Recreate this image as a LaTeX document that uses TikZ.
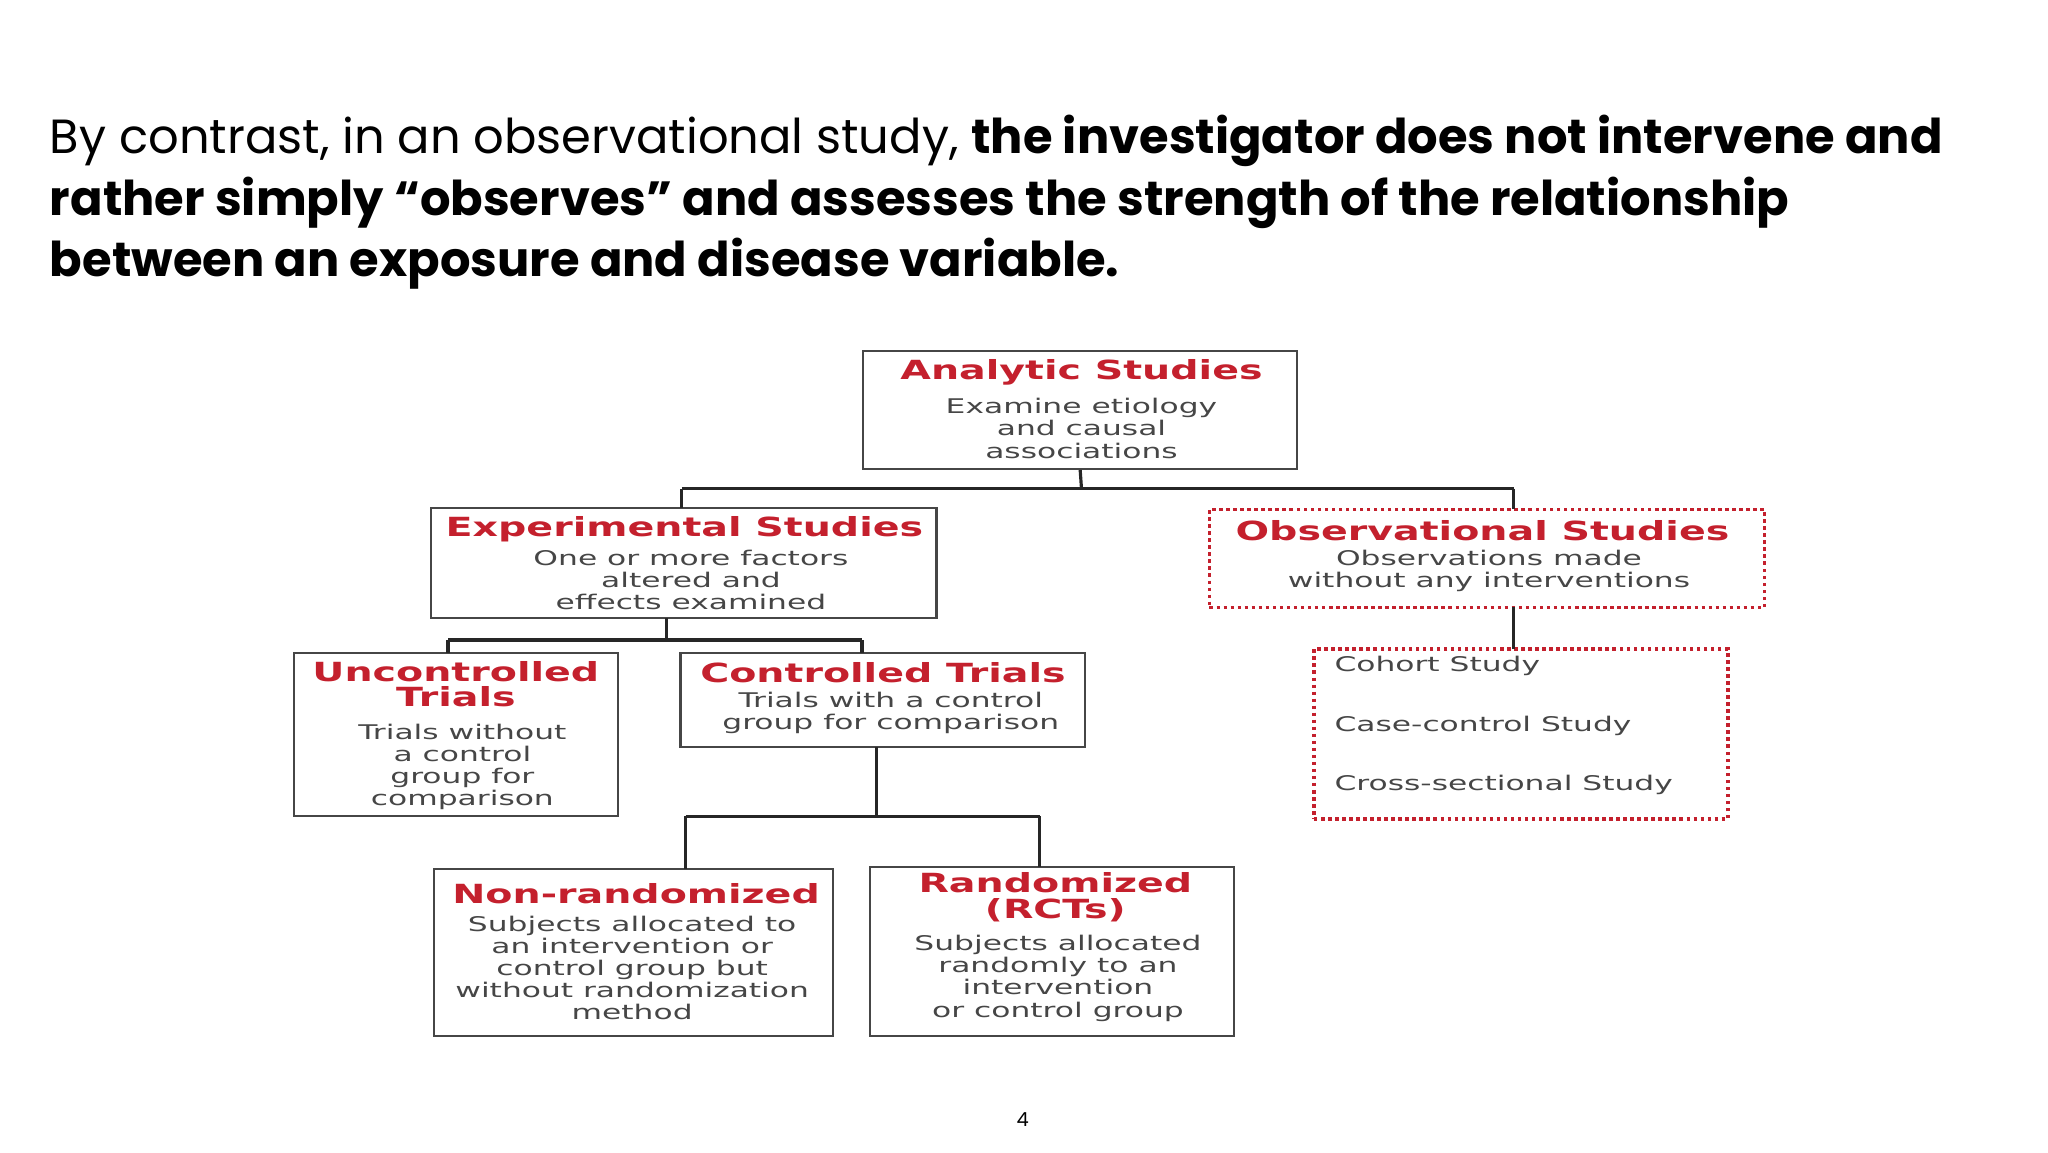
\documentclass[tikz,border=0pt]{standalone}
\usepackage{fontspec}
\setmainfont{Poppins}
\newfontfamily\boxfont[FakeStretch=1.5]{DejaVu Sans}
\newfontfamily\bodyfont[FakeStretch=1.55]{DejaVu Sans}
\definecolor{boxred}{RGB}{196,32,45}
\definecolor{boxgray}{RGB}{70,70,70}
\newcommand\px{0.02612cm}
\begin{document}
\begin{tikzpicture}[x=0.02612cm,y=-0.02612cm,
  bx/.style={draw=boxgray,line width=1.2pt,inner sep=0pt},
  obx/.style={draw=boxred,line width=2pt,dotted,inner sep=0pt},
  ttl/.style={font=\boxfont\bfseries\fontsize{15}{17}\selectfont,text=boxred,align=center},
  bdy/.style={font=\bodyfont\fontsize{11.5}{12.6}\selectfont,text=boxgray,align=center},
  con/.style={line width=1.8pt,black!85}]
\useasboundingbox (0,0) rectangle (1568,882);
\node[anchor=north west,align=left,inner sep=0pt,font=\fontsize{27.3}{35}\selectfont] (head) at (38,88)
 {By contrast, in an observational study, \textbf{the investigator does not intervene and}\\
 \textbf{rather simply ``observes'' and assesses the strength of the relationship}\\
 \textbf{between an exposure and disease variable.}};
% boxes
\node[bx,minimum width=332*\px,minimum height=90*\px] (an) at (827,314) {};
\node[bx,minimum width=387*\px,minimum height=84*\px] (ex) at (523.5,431) {};
\node[obx,minimum width=425*\px,minimum height=75*\px] (ob) at (1138.5,427.5) {};
\node[bx,minimum width=248*\px,minimum height=125*\px] (un) at (349,562.5) {};
\node[bx,minimum width=310*\px,minimum height=72*\px] (ct) at (676,536) {};
\node[obx,minimum width=317*\px,minimum height=130*\px] (co) at (1164.5,562) {};
\node[bx,minimum width=306*\px,minimum height=128*\px] (nr) at (485,729) {};
\node[bx,minimum width=279*\px,minimum height=129*\px] (rc) at (805.5,728.5) {};
% texts
\node[ttl] (t1) at (828,285) {Analytic Studies};
\node[bdy] (b1) at (828,328) {Examine etiology\\and causal\\associations};
\node[ttl] (t2) at (524,405) {Experimental Studies};
\node[bdy] (b2) at (529,444) {One or more factors\\altered and\\effects examined};
\node[ttl] (t3) at (1135,406) {Observational Studies};
\node[bdy] (b3) at (1140,437) {Observations made\\without any interventions};
\node[ttl,font=\boxfont\bfseries\fontsize{15}{14.5}\selectfont] (t4) at (349,524) {Uncontrolled\\Trials};
\node[bdy] (b4) at (354,587) {Trials without\\a control\\group for\\comparison};
\node[ttl] (t5) at (676,515) {Controlled Trials};
\node[bdy] (b5) at (682,546) {Trials with a control\\group for comparison};
\node[bdy,anchor=west] (c1) at (1017,510) {Cohort Study};
\node[bdy,anchor=west] (c2) at (1017,556) {Case-control Study};
\node[bdy,anchor=west] (c3) at (1017,601) {Cross-sectional Study};
\node[ttl] (t6) at (487,684) {Non-randomized};
\node[bdy] (b6) at (484,741) {Subjects allocated to\\an intervention or\\control group but\\without randomization\\method};
\node[ttl,font=\boxfont\bfseries\fontsize{15}{14.5}\selectfont] (t7) at (808,687) {Randomized\\(RCTs)};
\node[bdy] (b7) at (810,749) {Subjects allocated\\randomly to an\\intervention\\or control group};
\node[font=\fontsize{11}{13}\selectfont] (pg) at (783,857) {4};
% connectors
\coordinate (j1) at (828,374);
\draw[con] (an.south) -- (j1);
\draw[con] (522,374) -- (1159,374);
\draw[con] (522,374) -- (522,389);
\draw[con] (1159,374) -- (1159,390);
\draw[con] (510,473) -- (510,490);
\draw[con] (343,490) -- (660,490);
\draw[con] (343,490) -- (343,500);
\draw[con] (660,490) -- (660,500);
\draw[con] (1159,465) -- (1159,497);
\draw[con] (671,572) -- (671,625);
\draw[con] (525,625) -- (796,625);
\draw[con] (525,625) -- (525,665);
\draw[con] (796,625) -- (796,664);
\end{tikzpicture}
\end{document}
